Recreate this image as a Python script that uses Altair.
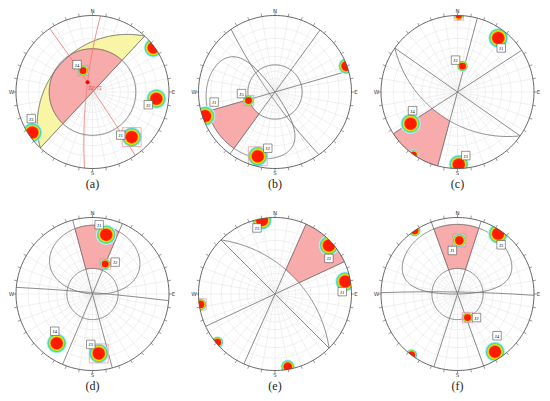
import numpy as np
import pandas as pd
import altair as alt

# ---------------- values ----------------
PANEL_TAGS = ["(a)", "(b)", "(c)", "(d)", "(e)", "(f)"]

# slope-face great circle of each panel (dip direction, dip in degrees)
SLOPE_DIPDIR = [313, 235, 215, 5, 45, 1]
SLOPE_DIP = [32, 82, 49, 88, 53.5, 87]
# vertical plane along the slope strike (wedge panels a, c, e)
STRIKE_LINE = [True, False, True, False, True, False]
# lateral limits: azimuths of the two bounding radii (deg)
LATERAL = [None, (216, 254), (195, 237), (345, 23), (24, 65), (340, 18)]
# friction angle (deg)
FRICTION = [31, 39, None, 37, None, 37]
# daylight envelope for planar panels: direction, shape dip (deg), outer reach (net radii)
ENV_DIR = [None, 235, None, 4, None, 359]
ENV_DIP = [None, 85, None, 72, None, 84]
ENV_REACH = [None, 0.916, None, 0.90, None, 0.91]

# pole concentrations per panel: set name, trend, plunge, relative density
POLE_NAMES = [["J1", "J2", "J3", "J4", ""],
              ["J1", "J5", "J2", ""],
              ["", "J1", "J2", "J4", "J3", ""],
              ["J1", "J2", "J4", "J3"],
              ["J3", "J2", "J1", "", "", ""],
              ["J1", "J3", "J2", "J4", "", ""]]
POLE_TREND = [[139, 96, 236, 336, 54],
              [251, 252, 195, 70],
              [1, 37, 11, 236, 179, 215],
              [13, 23, 216, 174],
              [350, 48, 80, 262, 230, 170],
              [2, 34, 157, 147, 326, 217]]
POLE_PLUNGE = [[14, 10, 3, 56, 1],
               [2, 50, 8, 0.5],
               [0, 7, 52, 17, 3, 0],
               [13, 44, 13, 14],
               [1, 3, 4, 1, 1, 2],
               [20, 3, 53, 6, 0, 0]]
POLE_DENS = [[1, 1, 1, 0.55, 0.95],
             [1, 0.55, 1, 0.8],
             [0.5, 1, 0.55, 1, 1, 0.5],
             [1, 0.55, 1, 1],
             [1, 1, 1, 0.6, 0.6, 0.7],
             [0.7, 1, 0.55, 1, 0.6, 0.6]]
# which concentrations carry a set window
WINDOWS = [[0, 3], [1, 2], [0], [1, 3], [3], [0, 2]]

# panel (a): two joint planes (dip direction, dip) and their intersection label
RED_DIPDIR = [56, 276]
RED_DIP = [88, 81]
RED_TEXT = "22° 73"

CARDINALS = ["N", "E", "S", "W"]
CARDINAL_AZ = [0, 90, 180, 270]

# ---------------- layout ----------------
R = 76.5                      # net radius in px
W, H = 534, 385
COL_PX = [92.5, 275, 457.5]   # page coordinates of the net centres
ROW_PX = [92, 294]
TAG_BELOW = 92                # px from net centre to the panel tag
LABEL_OFFSETS = [[(-11, -2), (-8, 6), (-1, -14), (-6, -6), None],
                 [(9, -14), (-7, -7), (10, -8), None],
                 [None, (3, 10), (-7, -6), (2, -13), (7, -9), None],
                 [(-7, -10), (10, -2), (-2, -12), (-8, -9)],
                 [(-5, 8), (0, 13), (-3, 10), None, None, None],
                 [(-7, 10), (3, 11), (9, 0), (2, -16), None, None]]
RINGS = ["halo", "cyan", "green", "yellow", "orange", "red"]
RING_PX = [11.5, 10.5, 9.5, 8.6, 7.7, 6.8]
RING_COL = ["#c4efff", "#45d9ea", "#55e055", "#f7f000", "#ff9c00", "#ff1a00"]


def center(k):
    return (COL_PX[k % 3] - 8) / R, (H + 8 - ROW_PX[k // 3]) / R


def polar(az, r):
    t = np.radians(az)
    return r * np.sin(t), r * np.cos(t)


def proj(trend, plunge):
    r = np.tan(np.radians(90.0 - np.asarray(plunge, float)) / 2.0)
    return polar(np.asarray(trend, float), r)


def gc_radius(az, dd, dip):
    app = np.arctan(np.tan(np.radians(dip)) * np.cos(np.radians(az - dd)))
    return np.tan((np.pi / 2 - app) / 2)


def env_radius(az, d, psi, reach):
    app = np.arctan(np.tan(np.radians(psi)) * np.cos(np.radians(az - d)))
    return reach * np.tan(app / 2) / np.tan(np.radians(psi) / 2)


def pole_vec(dd, dip):
    tr, pl = np.radians(dd + 180), np.radians(90 - dip)
    return np.array([np.cos(pl) * np.sin(tr), np.cos(pl) * np.cos(tr), np.sin(pl)])


grid_rows, curve_rows, red_rows, poly_rows, mask_rows, perim_rows = [], [], [], [], [], []
tick_rows, card_rows, blob_rows, win_rows, box_rows, tag_rows, dot_rows = [], [], [], [], [], [], []
uid = [0]


def add(rows, xs, ys, cx, cy, **extra):
    uid[0] += 1
    for i, (x, y) in enumerate(zip(xs, ys)):
        rows.append(dict(id=uid[0], i=i, x=cx + x, y=cy + y, **extra))


full = np.linspace(0, 360, 181)
for k in range(6):
    cx, cy = center(k)
    # polar grid
    for p in range(10, 90, 10):
        x, y = polar(full, np.tan(np.radians(90 - p) / 2))
        add(grid_rows, x, y, cx, cy)
    for a in range(0, 360, 10):
        x, y = polar(np.array([a, a]), np.array([0.03, 1.0]))
        add(grid_rows, x, y, cx, cy)
    # slope great circle
    dd, dip = SLOPE_DIPDIR[k], SLOPE_DIP[k]
    az = np.linspace(dd - 90, dd + 90, 181)
    x, y = polar(az, gc_radius(az, dd, dip))
    add(curve_rows, x, y, cx, cy)
    if STRIKE_LINE[k]:
        x, y = polar(np.array([dd - 90, dd + 90]), np.array([1.0, 1.0]))
        add(curve_rows, x, y, cx, cy)
    if LATERAL[k] is not None:
        for a in LATERAL[k]:
            x, y = polar(np.array([a, a + 180]), np.array([1.0, 1.0]))
            add(curve_rows, x, y, cx, cy)
    rf = None
    if FRICTION[k] is not None:
        if k == 0:
            rf = np.tan(np.radians(90 - FRICTION[k]) / 2)
        else:
            rf = np.tan(np.radians(FRICTION[k]) / 2)
        x, y = polar(full, rf)
        add(curve_rows, x, y, cx, cy)
    if ENV_DIR[k] is not None:
        azs = np.linspace(ENV_DIR[k] - 90, ENV_DIR[k] + 90, 241)
        x, y = polar(azs, env_radius(azs, ENV_DIR[k], ENV_DIP[k], ENV_REACH[k]))
        add(curve_rows, x, y, cx, cy)
    # critical zones
    if k == 0:
        azs = np.linspace(dd - 90, dd + 90, 181)
        rg = gc_radius(azs, dd, dip)
        x, y = polar(azs, rg)
        add(poly_rows, np.append(x, x[0]), np.append(y, y[0]), cx, cy, kind="yellow")
        x, y = polar(azs, np.minimum(rf, rg))
        add(poly_rows, np.append(x, x[0]), np.append(y, y[0]), cx, cy, kind="pink")
    elif LATERAL[k] is not None:
        lo, hi = LATERAL[k]
        if hi < lo:
            hi += 360
        azs = np.linspace(lo, hi, 61)
        if ENV_DIR[k] is not None:
            inner = np.full_like(azs, rf)
            outer = env_radius(azs, ENV_DIR[k], ENV_DIP[k], ENV_REACH[k])
        else:
            inner = gc_radius(azs, dd, dip)
            outer = np.ones_like(azs)
        xi, yi = polar(azs, inner)
        xo, yo = polar(azs[::-1], outer[::-1])
        xs = np.concatenate([xi, xo, xi[:1]])
        ys = np.concatenate([yi, yo, yi[:1]])
        add(poly_rows, xs, ys, cx, cy, kind="pink")
    # red joint planes and intersection (panel a)
    if k == 0:
        for rdd, rdip in zip(RED_DIPDIR, RED_DIP):
            azs = np.linspace(rdd - 90, rdd + 90, 181)
            x, y = polar(azs, gc_radius(azs, rdd, rdip))
            add(red_rows, x, y, cx, cy)
        L = np.cross(pole_vec(RED_DIPDIR[0], RED_DIP[0]), pole_vec(RED_DIPDIR[1], RED_DIP[1]))
        if L[2] < 0:
            L = -L
        L = L / np.linalg.norm(L)
        tr = np.degrees(np.arctan2(L[0], L[1])) % 360
        pl = np.degrees(np.arcsin(L[2]))
        x, y = proj(tr, pl)
        dot_rows.append(dict(x=cx + float(x), y=cy + float(y), tx=cx + float(x) + 1 / R,
                             ty=cy + float(y) - 7 / R, t=RED_TEXT))
    # pole concentrations
    px, py = proj(POLE_TREND[k], POLE_PLUNGE[k])
    for j, name in enumerate(POLE_NAMES[k]):
        dens = POLE_DENS[k][j]
        for ri, (ring, rp) in enumerate(zip(RINGS, RING_PX)):
            blob_rows.append(dict(x=cx + px[j], y=cy + py[j], ring=ring, ri=ri,
                                  size=np.pi * (rp * dens) ** 2))
        if j in WINDOWS[k]:
            side = 2 * RING_PX[0] * dens * 0.82
            win_rows.append(dict(x=cx + px[j], y=cy + py[j], size=side ** 2))
        off = LABEL_OFFSETS[k][j]
        if name and off is not None:
            box_rows.append(dict(x=cx + px[j] + off[0] / R, y=cy + py[j] - off[1] / R, t=name))
    # mask, perimeter, ticks, cardinal letters, tag
    x, y = polar(full, 1.0 + 6.6 / R)
    add(mask_rows, x, y, cx, cy)
    x, y = polar(full, 1.0)
    add(perim_rows, x, y, cx, cy)
    for a in range(0, 360, 10):
        x1, y1 = polar(a, 1.0)
        x2, y2 = polar(a, 1.04)
        tick_rows.append(dict(x=cx + x1, y=cy + y1, x2=cx + x2, y2=cy + y2))
    for c, a in zip(CARDINALS, CARDINAL_AZ):
        x, y = polar(a, 1.06)
        card_rows.append(dict(x=cx + x, y=cy + y, t=c))
    tag_rows.append(dict(x=cx, y=cy - TAG_BELOW / R, t=PANEL_TAGS[k]))

xs = alt.Scale(domain=[0, W / R], nice=False, zero=False)
ys = alt.Scale(domain=[0, H / R], nice=False, zero=False)
X = alt.X("x:Q", scale=xs, axis=None)
Y = alt.Y("y:Q", scale=ys, axis=None)


def lines(rows, **mk):
    return alt.Chart(pd.DataFrame(rows)).mark_line(**mk).encode(
        x=X, y=Y, detail="id:N", order="i:Q")


poly_df = pd.DataFrame(poly_rows)
grid = lines(grid_rows, stroke="#e0e0e0", strokeWidth=0.5)
yellow = alt.Chart(poly_df[poly_df.kind == "yellow"]).mark_line(
    fill="#f8f5a4", stroke="#c9c27a", strokeWidth=0.5).encode(x=X, y=Y, detail="id:N", order="i:Q")
pink = alt.Chart(poly_df[poly_df.kind == "pink"]).mark_line(
    fill="#f8abab", stroke="#e07c7c", strokeWidth=0.5).encode(x=X, y=Y, detail="id:N", order="i:Q")
curves = lines(curve_rows, stroke="#6e6e6e", strokeWidth=0.8)
red = lines(red_rows, stroke="#f07272", strokeWidth=0.8)

blob_df = pd.DataFrame(blob_rows)
blobs = alt.Chart(blob_df).mark_circle(opacity=1).encode(
    x=X, y=Y, size=alt.Size("size:Q", scale=None),
    color=alt.Color("ring:N", scale=alt.Scale(domain=RINGS, range=RING_COL), legend=None),
    order=alt.Order("ri:Q"))
windows = alt.Chart(pd.DataFrame(win_rows)).mark_point(
    shape="square", filled=False, stroke="#f08080", strokeWidth=0.6, opacity=1).encode(
    x=X, y=Y, size=alt.Size("size:Q", scale=None))
mask = lines(mask_rows, stroke="white", strokeWidth=13)
perim = lines(perim_rows, stroke="#555555", strokeWidth=0.9)
ticks = alt.Chart(pd.DataFrame(tick_rows)).mark_rule(stroke="#555555", strokeWidth=0.6).encode(
    x=X, y=Y, x2="x2:Q", y2="y2:Q")
cards = alt.Chart(pd.DataFrame(card_rows)).mark_text(
    fontSize=5.5, color="#444444", font="DejaVu Sans").encode(x=X, y=Y, text="t:N")
dot_df = pd.DataFrame(dot_rows)
dot = alt.Chart(dot_df).mark_circle(color="#ff0000", size=16, opacity=1).encode(x=X, y=Y)
dot_text = alt.Chart(dot_df).mark_text(fontSize=4.5, color="#e04848", align="left").encode(
    x=alt.X("tx:Q", scale=xs, axis=None), y=alt.Y("ty:Q", scale=ys, axis=None), text="t:N")
box_df = pd.DataFrame(box_rows)
boxes = alt.Chart(box_df).mark_point(
    shape="square", filled=True, fill="white", stroke="#333333", strokeWidth=0.5,
    size=72, opacity=1).encode(x=X, y=Y)
box_text = alt.Chart(box_df).mark_text(
    fontSize=5, color="#111111", font="Liberation Serif").encode(x=X, y=Y, text="t:N")
tags = alt.Chart(pd.DataFrame(tag_rows)).mark_text(
    fontSize=12, color="#222222", font="Liberation Serif").encode(x=X, y=Y, text="t:N")

chart = alt.layer(grid, yellow, pink, curves, red, blobs, windows, dot, mask, perim, ticks,
                  cards, boxes, box_text, dot_text, tags).properties(
    width=W, height=H, autosize=alt.AutoSizeParams(type="none"), padding=0
).configure_view(stroke=None)

chart.save("out.html", embed_options={"renderer": "svg", "actions": False})
